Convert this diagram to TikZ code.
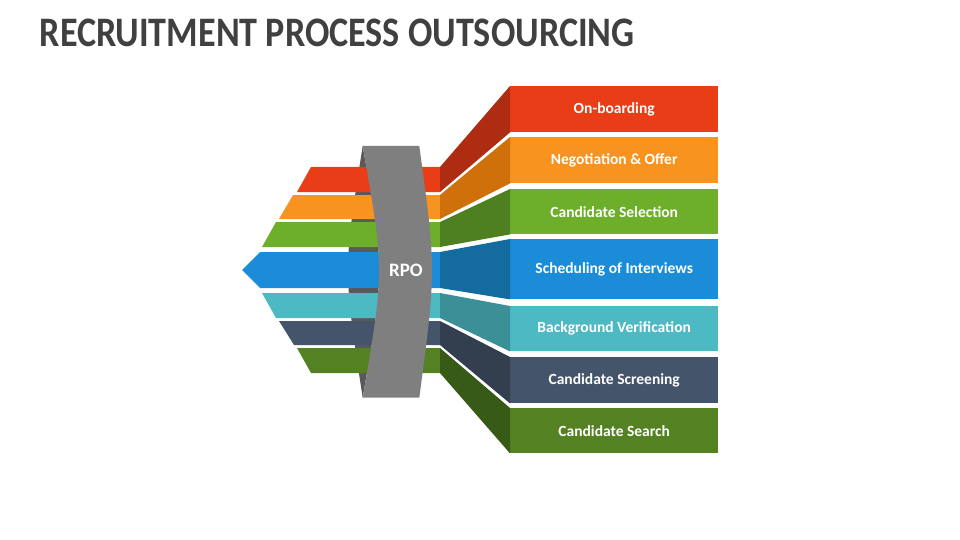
\documentclass[tikz,border=0pt]{standalone}
\usepackage{fontspec}
\setmainfont{Carlito}
\definecolor{cRed}{HTML}{E83D17}\definecolor{cRedD}{HTML}{AE2D12}
\definecolor{cOr}{HTML}{F7931E}\definecolor{cOrD}{HTML}{CF700A}
\definecolor{cGr}{HTML}{6DAF2A}\definecolor{cGrD}{HTML}{4E8022}
\definecolor{cBl}{HTML}{1A8CD8}\definecolor{cBlD}{HTML}{146BA0}
\definecolor{cTe}{HTML}{4DB9C2}\definecolor{cTeD}{HTML}{3A9096}
\definecolor{cNv}{HTML}{44546A}\definecolor{cNvD}{HTML}{333E4F}
\definecolor{cDg}{HTML}{548223}\definecolor{cDgD}{HTML}{385A17}
\definecolor{cBand}{HTML}{7F7F7F}\definecolor{cBandD}{HTML}{595959}
\definecolor{cTitle}{HTML}{404040}
\begin{document}
\begin{tikzpicture}[x=1pt,y=-1pt,
  box/.style={minimum width=208pt, inner sep=0pt, anchor=north west,
    text=white, font=\fontsize{15.5}{18}\selectfont\bfseries},
]
\useasboundingbox (0,0) rectangle (960,540);
% title
\node[anchor=base west, inner sep=0pt, text=cTitle,
  font=\fontsize{42}{48}\selectfont\bfseries] (title) at (39.5,47)
  {\scalebox{0.86}[1]{RECRUITMENT PROCESS OUTSOURCING}};
% back face of band
\fill[cBandD] (362.7,146) .. controls (343.1,270) .. (362.7,397.7)
  .. controls (384.4,270) .. (362.7,146) -- cycle;
% left bars
\fill[cRed] (311,167) -- (440,167) -- (440,192) -- (297,192) -- cycle;
\fill[cOr]  (293,195) -- (440,195) -- (440,219) -- (279,219) -- cycle;
\fill[cGr]  (276,222) -- (440,222) -- (440,247) -- (262,247) -- cycle;
\fill[cBl]  (260,252) -- (440,252) -- (440,288) -- (260,288) -- (242,270) -- cycle;
\fill[cTe]  (262,293) -- (440,293) -- (440,318) -- (276,318) -- cycle;
\fill[cNv]  (279,321) -- (440,321) -- (440,345) -- (294,345) -- cycle;
\fill[cDg]  (297,348) -- (440,348) -- (440,373) -- (311,373) -- cycle;
% front face of band
\fill[cBand] (362.7,146) -- (419.3,146) .. controls (436.2,270) .. (419.3,397.7)
  -- (362.7,397.7) .. controls (384.4,270) .. (362.7,146) -- cycle;
\node[text=white, font=\fontsize{19}{22}\selectfont\bfseries] (rpo) at (406,270) {RPO};
% right boxes
\node[box, fill=cRed, minimum height=46pt] (b1) at (510,86)  {On-boarding};
\node[box, fill=cOr,  minimum height=46pt] (b2) at (510,137) {Negotiation \& Offer};
\node[box, fill=cGr,  minimum height=45pt] (b3) at (510,189) {Candidate Selection};
\node[box, fill=cBl,  minimum height=60pt] (b4) at (510,239) {Scheduling of Interviews};
\node[box, fill=cTe,  minimum height=45pt] (b5) at (510,306) {Background Verification};
\node[box, fill=cNv,  minimum height=46pt] (b6) at (510,357) {Candidate Screening};
\node[box, fill=cDg,  minimum height=45pt] (b7) at (510,408) {Candidate Search};
% side faces
\fill[cRedD] (440,167) -- (b1.north west) -- (b1.south west) -- (440,192) -- cycle;
\fill[cOrD]  (440,195) -- (b2.north west) -- (b2.south west) -- (440,219) -- cycle;
\fill[cGrD]  (440,222) -- (b3.north west) -- (b3.south west) -- (440,247) -- cycle;
\fill[cBlD]  (440,252) -- (b4.north west) -- (b4.south west) -- (440,288) -- cycle;
\fill[cTeD]  (440,293) -- (b5.north west) -- (b5.south west) -- (440,318) -- cycle;
\fill[cNvD]  (440,321) -- (b6.north west) -- (b6.south west) -- (440,345) -- cycle;
\fill[cDgD]  (440,348) -- (b7.north west) -- (b7.south west) -- (440,373) -- cycle;
\end{tikzpicture}
\end{document}
